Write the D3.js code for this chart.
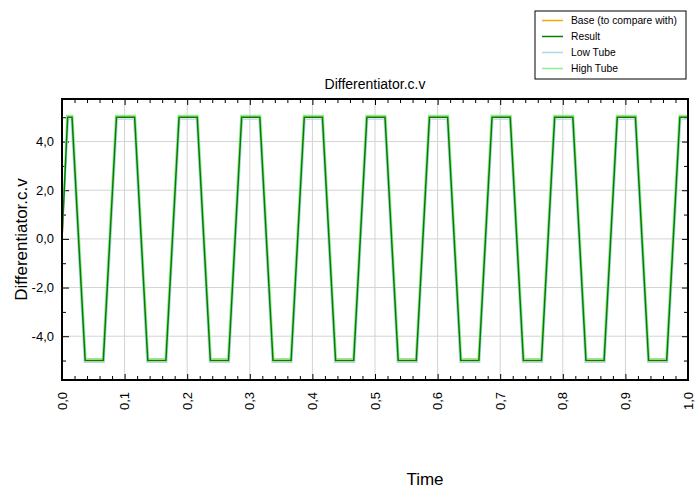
<!DOCTYPE html>
<html>
<head>
<meta charset="utf-8">
<script src="https://cdn.jsdelivr.net/npm/d3@7"></script>
<style>
body { margin: 0; background: #fff; }
svg { font-family: "Liberation Sans", Arial, sans-serif; }
</style>
</head>
<body>
<div id="plot"></div>
<script>
var width = 700;
var height = 500;

var title = 'Differentiator.c.v';
var x_label = 'Time';
var y_label = 'Differentiator.c.v';

var legend_names = ['Base (to compare with)', 'Result', 'Low Tube', 'High Tube'];
var legend_colors = ['#ffa500', '#008000', '#add8e6', '#90ee90'];

var x_ticks = [0, 0.1, 0.2, 0.3, 0.4, 0.5, 0.6, 0.7, 0.8, 0.9, 1.0];
var x_tick_labels = ['0,0', '0,1', '0,2', '0,3', '0,4', '0,5', '0,6', '0,7', '0,8', '0,9', '1,0'];
var y_ticks = [-4, -2, 0, 2, 4];
var y_tick_labels = ['-4,0', '-2,0', '0,0', '2,0', '4,0'];

// result (and base, identical)
var result_t = [0, 0.009, 0.016, 0.037, 0.066, 0.087, 0.116, 0.137, 0.166, 0.187, 0.216, 0.237, 0.266, 0.287, 0.316, 0.337, 0.366, 0.387, 0.416, 0.437, 0.466, 0.487, 0.516, 0.537, 0.566, 0.587, 0.616, 0.637, 0.666, 0.687, 0.716, 0.737, 0.766, 0.787, 0.816, 0.837, 0.866, 0.887, 0.916, 0.937, 0.966, 0.987, 1.0];
var result_v = [0, 5, 5, -5, -5, 5, 5, -5, -5, 5, 5, -5, -5, 5, 5, -5, -5, 5, 5, -5, -5, 5, 5, -5, -5, 5, 5, -5, -5, 5, 5, -5, -5, 5, 5, -5, -5, 5, 5, -5, -5, 5, 5];

// upper tolerance tube
var high_t = [0, 0.0075, 0.0175, 0.0385, 0.0645, 0.0855, 0.1175, 0.1385, 0.1645, 0.1855, 0.2175, 0.2385, 0.2645, 0.2855, 0.3175, 0.3385, 0.3645, 0.3855, 0.4175, 0.4385, 0.4645, 0.4855, 0.5175, 0.5385, 0.5645, 0.5855, 0.6175, 0.6385, 0.6645, 0.6855, 0.7175, 0.7385, 0.7645, 0.7855, 0.8175, 0.8385, 0.8645, 0.8855, 0.9175, 0.9385, 0.9645, 0.9855, 1.0];
var high_v = [0.08, 5.08, 5.08, -4.92, -4.92, 5.08, 5.08, -4.92, -4.92, 5.08, 5.08, -4.92, -4.92, 5.08, 5.08, -4.92, -4.92, 5.08, 5.08, -4.92, -4.92, 5.08, 5.08, -4.92, -4.92, 5.08, 5.08, -4.92, -4.92, 5.08, 5.08, -4.92, -4.92, 5.08, 5.08, -4.92, -4.92, 5.08, 5.08, -4.92, -4.92, 5.08, 5.08];

// lower tolerance tube
var low_t = [0, 0.0105, 0.0145, 0.0355, 0.0675, 0.0885, 0.1145, 0.1355, 0.1675, 0.1885, 0.2145, 0.2355, 0.2675, 0.2885, 0.3145, 0.3355, 0.3675, 0.3885, 0.4145, 0.4355, 0.4675, 0.4885, 0.5145, 0.5355, 0.5675, 0.5885, 0.6145, 0.6355, 0.6675, 0.6885, 0.7145, 0.7355, 0.7675, 0.7885, 0.8145, 0.8355, 0.8675, 0.8885, 0.9145, 0.9355, 0.9675, 0.9885, 1.0];
var low_v = [-0.08, 4.92, 4.92, -5.08, -5.08, 4.92, 4.92, -5.08, -5.08, 4.92, 4.92, -5.08, -5.08, 4.92, 4.92, -5.08, -5.08, 4.92, 4.92, -5.08, -5.08, 4.92, 4.92, -5.08, -5.08, 4.92, 4.92, -5.08, -5.08, 4.92, 4.92, -5.08, -5.08, 4.92, 4.92, -5.08, -5.08, 4.92, 4.92, -5.08, -5.08, 4.92, 4.92];

var left = 62, right = 688, top_y = 99, bottom = 380;

var canvas = d3.select('#plot')
    .append('svg')
    .attr('width', width)
    .attr('height', height);

canvas.append('rect')
    .attr('width', width)
    .attr('height', height)
    .attr('fill', '#fff');

var x_scale = d3.scaleLinear()
    .domain([0, 1])
    .range([left, right]);

var y_scale = d3.scaleLinear()
    .domain([-5.8, 5.75])
    .range([bottom, top_y]);

var x_minor = d3.range(0, 1.0001, 0.02).filter(function(d) { return Math.abs(Math.round(d * 10) - d * 10) > 1e-6; });
var y_minor = [-5, -3, -1, 1, 3, 5];

// grid
canvas.append('g')
    .selectAll('line')
    .data(x_ticks.slice(1, -1))
    .enter()
    .append('line')
    .attr('x1', function(d) { return x_scale(d); })
    .attr('x2', function(d) { return x_scale(d); })
    .attr('y1', top_y)
    .attr('y2', bottom)
    .attr('stroke', '#d3d3d3');

canvas.append('g')
    .selectAll('line')
    .data(y_ticks)
    .enter()
    .append('line')
    .attr('x1', left)
    .attr('x2', right)
    .attr('y1', function(d) { return y_scale(d); })
    .attr('y2', function(d) { return y_scale(d); })
    .attr('stroke', '#d3d3d3');

// ticks, all pointing inward
function addAxis(axis, pos, values, size) {
    canvas.append('g')
        .attr('transform', pos)
        .call(axis.tickValues(values).tickSize(size).tickFormat(''))
        .call(function(g) {
            g.select('.domain').remove();
            g.selectAll('.tick line').attr('stroke', '#000');
        });
}
addAxis(d3.axisTop(x_scale), 'translate(0,' + bottom + ')', x_ticks, 6);
addAxis(d3.axisTop(x_scale), 'translate(0,' + bottom + ')', x_minor, 4);
addAxis(d3.axisBottom(x_scale), 'translate(0,' + top_y + ')', x_ticks, 6);
addAxis(d3.axisBottom(x_scale), 'translate(0,' + top_y + ')', x_minor, 4);
addAxis(d3.axisRight(y_scale), 'translate(' + left + ',0)', y_ticks, 7);
addAxis(d3.axisRight(y_scale), 'translate(' + left + ',0)', y_minor, 4);
addAxis(d3.axisLeft(y_scale), 'translate(' + right + ',0)', y_ticks, 6);
addAxis(d3.axisLeft(y_scale), 'translate(' + right + ',0)', y_minor, 4);

// tick labels
canvas.append('g')
    .selectAll('text')
    .data(y_ticks)
    .enter()
    .append('text')
    .attr('x', 54)
    .attr('y', function(d) { return y_scale(d); })
    .attr('dy', '0.35em')
    .attr('text-anchor', 'end')
    .attr('font-size', 13)
    .text(function(d, i) { return y_tick_labels[i]; });

canvas.append('g')
    .selectAll('text')
    .data(x_ticks)
    .enter()
    .append('text')
    .attr('transform', function(d) { return 'translate(' + x_scale(d) + ',392) rotate(-90)'; })
    .attr('dy', '0.35em')
    .attr('text-anchor', 'end')
    .attr('font-size', 13)
    .text(function(d, i) { return x_tick_labels[i]; });

// series
canvas.append('clipPath')
    .attr('id', 'clip')
    .append('rect')
    .attr('x', left)
    .attr('y', top_y)
    .attr('width', right - left)
    .attr('height', bottom - top_y);

var line = d3.line()
    .x(function(d) { return x_scale(d[0]); })
    .y(function(d) { return y_scale(d[1]); });

var series = [
    { t: result_t, v: result_v, color: legend_colors[0], w: 1.5 },
    { t: high_t, v: high_v, color: legend_colors[3], w: 1.2 },
    { t: low_t, v: low_v, color: legend_colors[2], w: 1.2 },
    { t: result_t, v: result_v, color: legend_colors[1], w: 1.5 }
];

canvas.append('g')
    .attr('clip-path', 'url(#clip)')
    .selectAll('path')
    .data(series)
    .enter()
    .append('path')
    .attr('d', function(s) { return line(s.t.map(function(t, i) { return [t, s.v[i]]; })); })
    .attr('fill', 'none')
    .attr('stroke', function(s) { return s.color; })
    .attr('stroke-width', function(s) { return s.w; });

// frame
canvas.append('rect')
    .attr('x', left)
    .attr('y', top_y)
    .attr('width', right - left)
    .attr('height', bottom - top_y)
    .attr('fill', 'none')
    .attr('stroke', '#000')
    .attr('stroke-width', 2);

// titles
canvas.append('text')
    .attr('x', (left + right) / 2)
    .attr('y', 89)
    .attr('text-anchor', 'middle')
    .attr('font-size', 14)
    .text(title);

canvas.append('text')
    .attr('x', 425)
    .attr('y', 485)
    .attr('text-anchor', 'middle')
    .attr('font-size', 17)
    .text(x_label);

canvas.append('text')
    .attr('transform', 'translate(27,' + ((top_y + bottom) / 2) + ') rotate(-90)')
    .attr('text-anchor', 'middle')
    .attr('font-size', 17)
    .text(y_label);

// legend
var legend = canvas.append('g');
legend.append('rect')
    .attr('x', 535)
    .attr('y', 11)
    .attr('width', 151)
    .attr('height', 68)
    .attr('fill', '#fff')
    .attr('stroke', '#000');

var rows = legend.selectAll('g.row')
    .data(legend_names)
    .enter()
    .append('g')
    .attr('class', 'row')
    .attr('transform', function(d, i) { return 'translate(0,' + (20.5 + i * 16) + ')'; });

rows.append('line')
    .attr('x1', 542)
    .attr('x2', 563)
    .attr('stroke', function(d, i) { return legend_colors[i]; })
    .attr('stroke-width', 1.5);

rows.append('text')
    .attr('x', 571)
    .attr('dy', '0.35em')
    .attr('font-size', 10.3)
    .text(function(d) { return d; });
</script>
</body>
</html>
